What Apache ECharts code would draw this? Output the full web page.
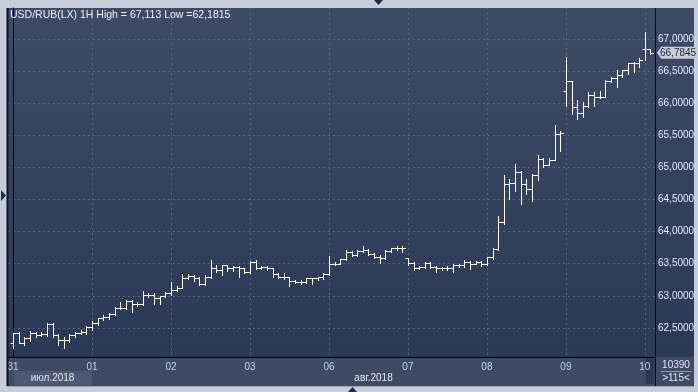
<!DOCTYPE html>
<html><head><meta charset="utf-8">
<script src="https://cdn.jsdelivr.net/npm/echarts@6/dist/echarts.min.js"></script>
<style>html,body{margin:0;padding:0;background:#c4ceda;}#c{width:698px;height:392px;}</style>
</head><body><div id="c"></div>
<script>
const titleText = 'USD/RUB(LX) 1H High = 67,113 Low =62,1815';
const dayLabels = ['31', '01', '02', '03', '06', '07', '08', '09', '10'];
const monthLabels = ['июл.2018', 'авг.2018'];
const barsPerDay = 14;
const yTicks = [62.5, 63, 63.5, 64, 64.5, 65, 65.5, 66, 66.5, 67];
const lastPrice = 66.7845;
const footerTop = '10390';
const footerBottom = '>115<';

const opens = [
  62.265, 62.42, 62.27, 62.34, 62.42, 62.39, 62.40, 62.56, 62.39, 62.31, 62.31, 62.39, 62.42, 62.44,
  62.51, 62.58, 62.65, 62.67, 62.72, 62.81, 62.81, 62.92, 62.87, 62.87, 63.01, 63.01, 62.97, 63.00,
  63.04, 63.09, 63.12, 63.28, 63.31, 63.28, 63.18, 63.29, 63.43, 63.40, 63.48, 63.43, 63.45, 63.43,
  63.37, 63.53, 63.43, 63.45, 63.43, 63.34, 63.29, 63.29, 63.23, 63.22, 63.22, 63.27, 63.27, 63.29,
  63.34, 63.50, 63.50, 63.57, 63.69, 63.64, 63.70, 63.72, 63.65, 63.61, 63.59, 63.70, 63.745, 63.75,
  63.59, 63.51, 63.43, 63.45, 63.51, 63.45, 63.43, 63.43, 63.43, 63.48, 63.48, 63.53, 63.50, 63.53,
  63.50, 63.60, 63.73, 64.15, 64.74, 64.76, 64.93, 64.74, 64.66, 64.88, 65.13, 65.04, 65.12, 65.52,
  66.195, 66.34, 65.94, 65.85, 65.95, 66.13, 66.10, 66.10, 66.35, 66.40, 66.44, 66.52, 66.62, 66.63,
  66.84, 66.84
];
const highs = [
  62.42, 62.43, 62.36, 62.45, 62.44, 62.43, 62.58, 62.58, 62.40, 62.36, 62.40, 62.44, 62.46, 62.53,
  62.60, 62.66, 62.70, 62.74, 62.82, 62.91, 62.94, 62.93, 62.90, 63.07, 63.04, 63.05, 63.00, 63.06,
  63.22, 63.15, 63.34, 63.34, 63.32, 63.29, 63.33, 63.56, 63.48, 63.48, 63.48, 63.47, 63.46, 63.44,
  63.54, 63.56, 63.47, 63.46, 63.44, 63.35, 63.36, 63.29, 63.24, 63.25, 63.28, 63.28, 63.30, 63.36,
  63.62, 63.53, 63.58, 63.72, 63.70, 63.71, 63.78, 63.73, 63.66, 63.64, 63.71, 63.74, 63.77, 63.78,
  63.59, 63.52, 63.46, 63.53, 63.52, 63.46, 63.45, 63.47, 63.50, 63.50, 63.56, 63.54, 63.55, 63.54,
  63.61, 63.74, 64.25, 64.88, 64.82, 65.05, 64.95, 64.82, 64.90, 65.19, 65.15, 65.14, 65.66, 65.56,
  66.72, 66.35, 66.05, 66.02, 66.18, 66.17, 66.19, 66.36, 66.41, 66.52, 66.52, 66.63, 66.64, 66.70,
  67.113, 66.84
];
const lows = [
  62.19, 62.27, 62.24, 62.30, 62.36, 62.37, 62.37, 62.36, 62.23, 62.1815, 62.28, 62.36, 62.40, 62.41,
  62.47, 62.55, 62.62, 62.64, 62.70, 62.79, 62.80, 62.75, 62.84, 62.86, 62.98, 62.88, 62.87, 62.98,
  63.01, 63.07, 63.12, 63.26, 63.23, 63.17, 63.17, 63.28, 63.37, 63.32, 63.38, 63.39, 63.29, 63.35,
  63.36, 63.42, 63.42, 63.40, 63.30, 63.28, 63.26, 63.16, 63.20, 63.18, 63.20, 63.19, 63.25, 63.26,
  63.33, 63.48, 63.49, 63.56, 63.62, 63.62, 63.68, 63.63, 63.59, 63.51, 63.58, 63.68, 63.72, 63.68,
  63.48, 63.40, 63.41, 63.43, 63.44, 63.37, 63.40, 63.40, 63.37, 63.45, 63.45, 63.42, 63.49, 63.46,
  63.48, 63.58, 63.72, 64.12, 64.51, 64.63, 64.43, 64.59, 64.48, 64.80, 65.00, 65.03, 65.11, 65.26,
  65.95, 65.83, 65.76, 65.79, 65.94, 65.95, 66.08, 66.09, 66.33, 66.26, 66.41, 66.46, 66.48, 66.57,
  66.68, 66.76
];
const closes = [
  62.42, 62.265, 62.34, 62.42, 62.39, 62.40, 62.56, 62.39, 62.31, 62.31, 62.39, 62.42, 62.44, 62.51,
  62.58, 62.65, 62.67, 62.72, 62.81, 62.81, 62.92, 62.87, 62.87, 63.01, 63.01, 62.97, 63.00, 63.04,
  63.09, 63.12, 63.28, 63.31, 63.28, 63.18, 63.29, 63.43, 63.40, 63.48, 63.43, 63.45, 63.43, 63.37,
  63.53, 63.43, 63.45, 63.43, 63.34, 63.29, 63.29, 63.23, 63.22, 63.22, 63.27, 63.27, 63.29, 63.34,
  63.50, 63.50, 63.57, 63.69, 63.64, 63.70, 63.72, 63.65, 63.61, 63.59, 63.70, 63.745, 63.75, 63.75,
  63.51, 63.43, 63.45, 63.51, 63.45, 63.43, 63.43, 63.43, 63.48, 63.48, 63.53, 63.50, 63.53, 63.50,
  63.60, 63.73, 64.15, 64.74, 64.76, 64.93, 64.74, 64.66, 64.88, 65.13, 65.04, 65.12, 65.52, 65.54,
  66.34, 65.94, 65.85, 65.95, 66.13, 66.10, 66.10, 66.35, 66.40, 66.44, 66.52, 66.62, 66.63, 66.68,
  66.84, 66.7845
];

const FONT = '"Liberation Sans Narrow", "Liberation Sans", Arial, sans-serif';
const GL = 8, GT = 8, GW = 647, GH = 349;
const dayTicks = dayLabels.map((d, i) => i * barsPerDay);
const fmt4 = v => v.toFixed(4).replace('.', ',');

const chart = echarts.init(document.getElementById('c'), null, {renderer: 'canvas'});

function renderItem(params, api) {
  const k = api.value(0);
  const o = api.coord([k, api.value(1)]);
  const h = api.coord([k, api.value(2)]);
  const l = api.coord([k, api.value(3)]);
  const c = api.coord([k, api.value(4)]);
  const half = Math.round(api.size([1, 0])[0] / 2);
  const x = Math.round(o[0]) + 0.5;
  const yo = Math.round(o[1]) + 0.5, yc = Math.round(c[1]) + 0.5;
  const st = {stroke: '#ffffff', lineWidth: 1};
  return {
    type: 'group',
    children: [
      {type: 'line', shape: {x1: x, y1: Math.round(h[1]), x2: x, y2: Math.round(l[1]) + 1}, style: st},
      {type: 'line', shape: {x1: x - half, y1: yo, x2: x, y2: yo}, style: st},
      {type: 'line', shape: {x1: x, y1: yc, x2: x + half + 0.5, y2: yc}, style: st}
    ]
  };
}

const data = opens.map((o, i) => [i, o, highs[i], lows[i], closes[i]]);

chart.setOption({
  animation: false,
  backgroundColor: '#c4ceda',
  title: {
    text: titleText, left: 8, top: 8, padding: [2, 2],
    textStyle: {color: '#eef2f8', fontSize: 10.5, fontWeight: 'normal', fontFamily: FONT}
  },
  grid: {left: GL, top: GT, width: GW, height: GH, show: false},
  xAxis: {
    type: 'value', min: -0.9, max: 113.8,
    axisLine: {show: true, onZero: false, lineStyle: {color: '#000000', width: 1}},
    axisTick: {show: false, customValues: dayTicks},
    splitLine: {show: true, lineStyle: {color: '#56647e', type: [2, 3], width: 1}},
    axisLabel: {
      customValues: dayTicks, margin: 5, color: '#bcd4f2', fontSize: 10, fontFamily: FONT,
      formatter: v => dayLabels[Math.round(v / barsPerDay)]
    }
  },
  yAxis: {
    type: 'value', position: 'right', min: 62.047, max: 67.483,
    axisLine: {show: true, lineStyle: {color: '#000000', width: 1}},
    axisTick: {show: false, customValues: yTicks},
    splitLine: {show: true, lineStyle: {color: '#56647e', type: [2, 3], width: 1}},
    axisLabel: {customValues: yTicks, margin: 3, color: '#e2ebf8', fontSize: 10, fontFamily: FONT, formatter: fmt4}
  },
  series: [{
    type: 'custom', renderItem: renderItem, data: data, clip: true, silent: true,
    encode: {x: 0, y: [1, 2, 3, 4]}
  }]
});

const px = k => chart.convertToPixel({xAxisIndex: 0}, k);
const py = v => chart.convertToPixel({yAxisIndex: 0}, v);
const julA = px(0), augA = px(barsPerDay), right = GL + GW;
const yLast = py(lastPrice);
const grad = new echarts.graphic.LinearGradient(0, 0, 0, 1, [
  {offset: 0, color: '#3e4b66'}, {offset: 1, color: '#2b3957'}
]);
chart.setOption({
  graphic: [
    {type: 'rect', z: -10, shape: {x: GL, y: GT, width: 694 - GL, height: GH}, style: {fill: grad}},
    {type: 'rect', z: -10, shape: {x: GL, y: GT + GH, width: 694 - GL, height: 386 - GT - GH}, style: {fill: '#3f4b64'}},
    {type: 'rect', z: -9, shape: {x: julA + 1, y: 371, width: augA - julA - 1, height: 14}, style: {fill: '#4c5874'}},
    {type: 'rect', z: -9, shape: {x: px(112) + 1, y: GT + GH + 1, width: 8, height: 26}, style: {fill: '#2c3851'}},
    {type: 'line', z: 50, shape: {x1: right + 0.5, y1: GT, x2: right + 0.5, y2: 386}, style: {stroke: '#000', lineWidth: 1}},
    {type: 'line', z: 50, shape: {x1: GL - 0.5, y1: GT, x2: GL - 0.5, y2: 386}, style: {stroke: '#0c1322', lineWidth: 2}},
    {type: 'line', z: 50, shape: {x1: GL - 1, y1: 386.5, x2: 694, y2: 386.5}, style: {stroke: '#9aa6b6', lineWidth: 1}},
    {type: 'text', z: 50, style: {text: monthLabels[0], x: (julA + augA) / 2, y: 378, align: 'center', verticalAlign: 'middle', fill: '#e1e7f0', font: '10px ' + FONT}},
    {type: 'text', z: 50, style: {text: monthLabels[1], x: (augA + right) / 2, y: 378, align: 'center', verticalAlign: 'middle', fill: '#e1e7f0', font: '10px ' + FONT}},
    {type: 'text', z: 50, style: {text: footerTop, x: 676, y: 365, align: 'center', verticalAlign: 'middle', fill: '#e1e7f0', font: '10px ' + FONT}},
    {type: 'line', z: 50, shape: {x1: 661, y1: 371.5, x2: 692, y2: 371.5}, style: {stroke: '#8e9ab0', lineWidth: 1}},
    {type: 'text', z: 50, style: {text: footerBottom, x: 676, y: 378, align: 'center', verticalAlign: 'middle', fill: '#e1e7f0', font: '10px ' + FONT}},
    {type: 'polygon', z: 60, shape: {points: [[right + 2, yLast], [right + 6, yLast - 6], [694, yLast - 6], [694, yLast + 6], [right + 6, yLast + 6]]}, style: {fill: '#c9ced6'}},
    {type: 'text', z: 61, style: {text: fmt4(lastPrice), x: right + 5, y: yLast, align: 'left', verticalAlign: 'middle', fill: '#1b2538', font: '10px ' + FONT}},
    {type: 'polygon', z: 60, shape: {points: [[1, 190], [6, 195.5], [1, 201]]}, style: {fill: '#1f2b40'}},
    {type: 'polygon', z: 60, shape: {points: [[374, 0], [383, 0], [378.5, 5]]}, style: {fill: '#1f2b40'}},
    {type: 'polygon', z: 60, shape: {points: [[348, 392], [357, 392], [352.5, 387]]}, style: {fill: '#1f2b40'}}
  ]
});
</script></body></html>
